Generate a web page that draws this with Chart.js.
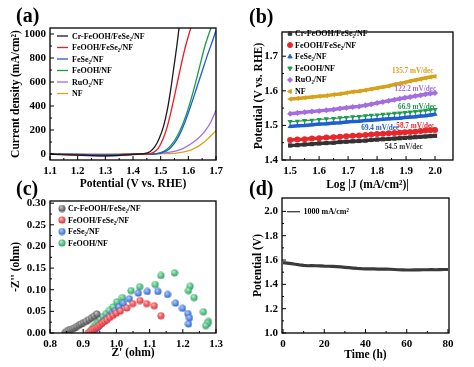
<!DOCTYPE html>
<html>
<head>
<meta charset="utf-8">
<script src="https://cdn.jsdelivr.net/npm/chart.js@4.4.0/dist/chart.umd.min.js"></script>
<style>
  html, body { margin: 0; padding: 0; background: #fff; }
  #fig { position: relative; width: 474px; height: 367px; overflow: hidden; }
  #fig canvas { position: absolute; }
  .tag { position: absolute; font: bold 20px "Liberation Serif", serif; color: #000; line-height: 1; }
</style>
</head>
<body>
<div id="fig">
  <canvas id="ca" width="237" height="195" style="left:0;top:0"></canvas>
  <canvas id="cb" width="237" height="195" style="left:237px;top:0"></canvas>
  <canvas id="cc" width="237" height="184" style="left:0;top:183px"></canvas>
  <canvas id="cd" width="237" height="184" style="left:237px;top:183px"></canvas>
  <div class="tag" style="left:16px;top:5px">(a)</div>
  <div class="tag" style="left:249px;top:6px">(b)</div>
  <div class="tag" style="left:16px;top:178px">(c)</div>
  <div class="tag" style="left:249px;top:178px">(d)</div>
</div>
<script>
// ---- (a) LSV curves: potential (V) / current density (mA/cm2)
var namesA = ["Cr-FeOOH/FeSe\u2082/NF", "FeOOH/FeSe\u2082/NF", "FeSe\u2082/NF", "FeOOH/NF", "RuO\u2082/NF", "NF"];
var vBlack = [1.10, 1.15, 1.20, 1.25, 1.30, 1.35, 1.40, 1.437, 1.461, 1.479, 1.495, 1.510, 1.524, 1.536, 1.548, 1.558, 1.567];
var jBlack = [-2, -5, -9, -13, -15, -12, -3, 2, 19, 61, 131, 228, 367, 533, 728, 894, 1060];
var vRed = [1.10, 1.15, 1.20, 1.25, 1.30, 1.35, 1.40, 1.449, 1.473, 1.491, 1.507, 1.522, 1.536, 1.552, 1.570, 1.588, 1.610];
var jRed = [-2, -6, -10, -14, -16, -13, -4, 0, 11, 47, 117, 214, 339, 506, 700, 881, 1060];
var vBlue = [1.10, 1.20, 1.30, 1.40, 1.48, 1.51, 1.53, 1.55, 1.57, 1.59, 1.61, 1.63, 1.65, 1.67, 1.69, 1.70];
var jBlue = [-1, -4, -7, -2, 0, 15, 40, 90, 170, 280, 410, 550, 690, 830, 960, 1030];
var vGreen = [1.10, 1.20, 1.30, 1.40, 1.47, 1.50, 1.52, 1.54, 1.56, 1.58, 1.60, 1.62, 1.64, 1.66, 1.683];
var jGreen = [-1, -4, -8, -2, 0, 12, 35, 80, 150, 250, 380, 540, 720, 900, 1060];
var vPurple = [1.10, 1.20, 1.30, 1.40, 1.45, 1.50, 1.55, 1.58, 1.61, 1.64, 1.66, 1.68, 1.70];
var jPurple = [-1, -3, -4, 0, 2, 6, 22, 45, 85, 140, 190, 260, 365];
var vOrange = [1.10, 1.20, 1.30, 1.40, 1.50, 1.55, 1.58, 1.61, 1.64, 1.67, 1.70];
var jOrange = [0, -1, -1, 0, 2, 6, 15, 35, 70, 125, 195];
var xTicksA = [1.1, 1.2, 1.3, 1.4, 1.5, 1.6, 1.7];
var yTicksA = [0, 200, 400, 600, 800, 1000];

// ---- (b) Tafel plots: log|J| / potential (V)
var logJ = [1.500, 1.525, 1.550, 1.575, 1.600, 1.625, 1.650, 1.672, 1.694, 1.716, 1.738, 1.760, 1.780,
            1.800, 1.820, 1.840, 1.860, 1.878, 1.896, 1.914, 1.932, 1.950, 1.967, 1.984, 2.000];
var tafBlack = [1.442, 1.443, 1.445, 1.446, 1.448, 1.449, 1.450, 1.452, 1.453, 1.454, 1.455, 1.456, 1.458,
                1.459, 1.460, 1.461, 1.462, 1.463, 1.464, 1.465, 1.466, 1.467, 1.468, 1.469, 1.470];
var tafRed = [1.458, 1.459, 1.460, 1.462, 1.463, 1.465, 1.466, 1.467, 1.469, 1.470, 1.471, 1.472, 1.474,
              1.475, 1.476, 1.477, 1.478, 1.479, 1.480, 1.481, 1.482, 1.484, 1.485, 1.486, 1.487];
var tafBlue = [1.497, 1.499, 1.500, 1.502, 1.504, 1.505, 1.507, 1.508, 1.510, 1.511, 1.512, 1.514, 1.515,
               1.516, 1.518, 1.519, 1.520, 1.521, 1.523, 1.524, 1.525, 1.527, 1.528, 1.530, 1.532];
var tafGreen = [1.511, 1.512, 1.514, 1.515, 1.517, 1.519, 1.520, 1.522, 1.523, 1.525, 1.526, 1.528, 1.529,
                1.530, 1.532, 1.533, 1.535, 1.536, 1.537, 1.539, 1.540, 1.542, 1.543, 1.545, 1.546];
var tafPurple = [1.534, 1.536, 1.538, 1.540, 1.542, 1.544, 1.546, 1.549, 1.551, 1.553, 1.555, 1.558, 1.561,
                 1.565, 1.568, 1.571, 1.574, 1.577, 1.580, 1.582, 1.585, 1.587, 1.590, 1.592, 1.594];
var tafOrange = [1.576, 1.578, 1.580, 1.582, 1.584, 1.586, 1.589, 1.591, 1.594, 1.597, 1.599, 1.602, 1.605,
                 1.608, 1.611, 1.614, 1.618, 1.621, 1.624, 1.628, 1.631, 1.634, 1.637, 1.640, 1.642];
var slopeTexts = ["54.5 mV/dec", "58.7 mV/dec", "69.4 mV/dec", "66.9 mV/dec", "122.2 mV/dec", "135.7 mV/dec"];
var xTicksB = [1.5, 1.6, 1.7, 1.8, 1.9, 2.0];
var yTicksB = [1.4, 1.5, 1.6, 1.7];

// ---- (c) Nyquist plots: Z' / -Z'' (ohm)
var namesC = ["Cr-FeOOH/FeSe\u2082/NF", "FeOOH/FeSe\u2082/NF", "FeSe\u2082/NF", "FeOOH/NF"];
var zrBlack = [0.845, 0.850, 0.856, 0.862, 0.868, 0.874, 0.880, 0.887, 0.894, 0.901, 0.909, 0.917, 0.925, 0.933, 0.941];
var ziBlack = [0.001, 0.004, 0.006, 0.008, 0.010, 0.012, 0.015, 0.018, 0.021, 0.024, 0.027, 0.031, 0.035, 0.039, 0.044];
var zrRed = [0.915, 0.920, 0.926, 0.932, 0.938, 0.944, 0.950, 0.957, 0.964, 0.972, 0.980, 0.990, 1.000, 1.012, 1.031, 1.049, 1.071, 1.091, 1.114, 1.134];
var ziRed = [0.000, 0.003, 0.006, 0.009, 0.012, 0.015, 0.019, 0.023, 0.027, 0.031, 0.036, 0.041, 0.046, 0.051, 0.058, 0.068, 0.075, 0.068, 0.063, 0.040];
var zrBlue = [0.925, 0.930, 0.936, 0.942, 0.948, 0.955, 0.962, 0.970, 0.978, 0.987, 0.997, 1.008, 1.021, 1.039, 1.066, 1.093, 1.125, 1.154, 1.178, 1.199, 1.215, 1.220, 1.217];
var ziBlue = [0.000, 0.004, 0.008, 0.012, 0.017, 0.022, 0.027, 0.033, 0.039, 0.045, 0.051, 0.060, 0.069, 0.079, 0.092, 0.096, 0.096, 0.089, 0.069, 0.057, 0.045, 0.035, 0.021];
var zrGreen = [0.918, 0.922, 0.927, 0.932, 0.938, 0.945, 0.952, 0.960, 0.969, 0.979, 0.990, 1.001, 1.018, 1.044, 1.070, 1.117, 1.134, 1.175, 1.222, 1.217, 1.234, 1.262, 1.277, 1.275, 1.269];
var ziGreen = [0.000, 0.005, 0.010, 0.015, 0.020, 0.026, 0.032, 0.038, 0.045, 0.052, 0.060, 0.072, 0.082, 0.098, 0.107, 0.112, 0.133, 0.139, 0.108, 0.098, 0.082, 0.049, 0.027, 0.022, 0.017];
var xTicksC = [0.8, 0.9, 1.0, 1.1, 1.2, 1.3];
var yTicksC = [0, 0.05, 0.10, 0.15, 0.20, 0.25, 0.30];

// ---- (d) stability at 1000 mA/cm2: time (h) / potential (V)
var timeH = [0, 2, 4, 6, 8, 10, 12, 14, 16, 18, 20, 22, 24, 26, 28, 30, 32, 34, 36, 38, 40,
             42, 44, 46, 48, 50, 52, 54, 56, 58, 60, 62, 64, 66, 68, 70, 72, 74, 76, 78, 80];
var potD = [1.578, 1.574, 1.570, 1.565, 1.560, 1.556, 1.553, 1.555, 1.553, 1.552, 1.550, 1.549, 1.548, 1.546,
            1.543, 1.540, 1.537, 1.534, 1.531, 1.529, 1.528, 1.527, 1.527, 1.526, 1.526, 1.525, 1.524, 1.522,
            1.520, 1.519, 1.518, 1.518, 1.519, 1.519, 1.520, 1.520, 1.521, 1.520, 1.521, 1.522, 1.522];
var xTicksD = [0, 20, 40, 60, 80];
var yTicksD = [1.0, 1.2, 1.4, 1.6, 1.8, 2.0];

Chart.defaults.font.family = '"Liberation Serif", "Times New Roman", serif';
Chart.defaults.font.weight = 'bold';
Chart.defaults.font.size = 11;
Chart.defaults.color = '#000';

function xy(xs, ys) {
    return xs.map(function(x, i) { return {x: x, y: ys[i]}; });
}

function axis(min, max, tickVals, digits, title, titlePad, fit, labelPad) {
    return {
        type: 'linear', min: min, max: max,
        grid: {display: false, drawTicks: false},
        border: {display: false},
        afterBuildTicks: function(s) {
            s.ticks = tickVals.map(function(v) { return {value: v}; });
        },
        afterFit: function(s) {
            if (s.isHorizontal()) s.height = fit; else s.width = fit;
        },
        ticks: {
            padding: labelPad, maxRotation: 0, autoSkip: false,
            font: {size: 11, weight: 'bold'},
            callback: function(v) { return Number(v).toFixed(digits); }
        },
        title: {display: true, text: title, padding: titlePad, font: {size: 11.5, weight: 'bold'}}
    };
}

// axis box with inward major/minor ticks
var framePlugin = {
    id: 'frame',
    afterDatasetsDraw: function(chart) {
        var ctx = chart.ctx, a = chart.chartArea;
        var xs = chart.scales.x, ys = chart.scales.y;
        ctx.save();
        ctx.strokeStyle = '#000';
        ctx.lineWidth = 1;
        ctx.beginPath();
        xs.ticks.forEach(function(t, i) {
            var p = xs.getPixelForValue(t.value);
            ctx.moveTo(p, a.bottom); ctx.lineTo(p, a.bottom - 4);
            if (i < xs.ticks.length - 1) {
                var m = xs.getPixelForValue((t.value + xs.ticks[i + 1].value) / 2);
                ctx.moveTo(m, a.bottom); ctx.lineTo(m, a.bottom - 2);
            }
        });
        ys.ticks.forEach(function(t, i) {
            var p = ys.getPixelForValue(t.value);
            ctx.moveTo(a.left, p); ctx.lineTo(a.left + 4, p);
            if (i < ys.ticks.length - 1) {
                var m = ys.getPixelForValue((t.value + ys.ticks[i + 1].value) / 2);
                ctx.moveTo(a.left, m); ctx.lineTo(a.left + 2, m);
            }
        });
        ctx.stroke();
        ctx.lineWidth = 1.3;
        ctx.strokeRect(a.left, a.top, a.right - a.left, a.bottom - a.top);
        ctx.restore();
    }
};

// legend drawn inside the plot area
var boxLegend = {
    id: 'boxLegend',
    afterDraw: function(chart, args, o) {
        if (!o || !o.x) return;
        var ctx = chart.ctx;
        ctx.save();
        ctx.font = 'bold ' + (o.size || 8) + 'px "Liberation Serif", serif';
        ctx.textBaseline = 'middle';
        ctx.textAlign = 'left';
        chart.data.datasets.forEach(function(ds, i) {
            var y = o.y + i * o.step;
            if (o.sample === 'line') {
                ctx.strokeStyle = ds.borderColor;
                ctx.lineWidth = 1.3;
                ctx.beginPath();
                ctx.moveTo(o.x, y); ctx.lineTo(o.x + o.len, y);
                ctx.stroke();
            } else if (o.sample === 'image') {
                var img = ds.pointStyle;
                ctx.drawImage(img, o.x - img.width / 2, y - img.height / 2);
            } else {
                ctx.fillStyle = ds.backgroundColor;
                ctx.strokeStyle = ds.backgroundColor;
                Chart.helpers.drawPoint(ctx, {pointStyle: ds.pointStyle, rotation: ds.pointRotation || 0,
                    radius: 2.5, borderWidth: 0.5}, o.x, y);
            }
            ctx.fillStyle = '#000';
            ctx.fillText(ds.label, o.textX, y + 0.5);
        });
        ctx.restore();
    }
};

// slope annotations for (b), placed in data units
var slopeNotes = {
    id: 'slopeNotes',
    afterDraw: function(chart, args, o) {
        if (!o || !o.items) return;
        var ctx = chart.ctx;
        ctx.save();
        ctx.font = 'bold 7.2px "Liberation Serif", serif';
        ctx.textAlign = 'center';
        ctx.textBaseline = 'middle';
        o.items.forEach(function(it) {
            ctx.fillStyle = it.color;
            ctx.fillText(it.text, chart.scales.x.getPixelForValue(it.x), chart.scales.y.getPixelForValue(it.y));
        });
        ctx.restore();
    }
};

function sphere(color, light) {
    var c = document.createElement('canvas');
    c.width = 8; c.height = 8;
    var g = c.getContext('2d');
    var grad = g.createRadialGradient(3, 2.6, 0.3, 4, 4, 4);
    grad.addColorStop(0, light);
    grad.addColorStop(1, color);
    g.fillStyle = grad;
    g.beginPath();
    g.arc(4, 4, 3.5, 0, Math.PI * 2);
    g.fill();
    return c;
}

function baseOptions(pad) {
    return {
        responsive: false, animation: false, devicePixelRatio: 1,
        layout: {padding: pad},
        plugins: {legend: {display: false}, tooltip: {enabled: false}}
    };
}

// ---- chart (a)
var colsA = ['#1a1a1a', '#ec1c24', '#1e5bd6', '#1a9850', '#a36fe0', '#d9a520'];
var seriesA = [[vBlack, jBlack], [vRed, jRed], [vBlue, jBlue], [vGreen, jGreen], [vPurple, jPurple], [vOrange, jOrange]];
var optA = baseOptions({left: 0, right: 21, top: 28, bottom: 0});
optA.scales = {
    x: axis(1.1, 1.7, xTicksA, 1, 'Potential (V vs. RHE)', {bottom: 4}, 35, 5),
    y: axis(-50, 1050, yTicksA, 0, 'Current density (mA/cm\u00b2)', {top: 9}, 50, 4)
};
optA.plugins.boxLegend = {x: 57, len: 11, textX: 72, y: 36, step: 11.5, sample: 'line'};
new Chart(document.getElementById('ca'), {
    type: 'line',
    data: {
        datasets: seriesA.map(function(s, i) {
            return {label: namesA[i], data: xy(s[0], s[1]), borderColor: colsA[i], borderWidth: 1.3,
                pointRadius: 0, cubicInterpolationMode: 'monotone', fill: false};
        })
    },
    options: optA,
    plugins: [framePlugin, boxLegend]
});

// ---- chart (b)
var colsB = ['#333333', '#e8262b', '#1f5fcf', '#1d9b4e', '#a46de0', '#d6a11c'];
var markB = ['rect', 'circle', 'triangle', 'triangle', 'rectRot', 'triangle'];
var rotB = [0, 0, 0, 180, 0, 270];
var lineB = [3.5, 3.5, 3.5, 1.2, 3.5, 3.5];
var seriesB = [tafBlack, tafRed, tafBlue, tafGreen, tafPurple, tafOrange];
var optB = baseOptions({left: 0, right: 21, top: 32, bottom: 0});
optB.scales = {
    x: axis(1.472, 2.062, xTicksB, 1, 'Log |J (mA/cm\u00b2)|', {bottom: 3}, 35, 5),
    y: axis(1.4, 1.77, yTicksB, 1, 'Potential (V vs. RHE)', {top: 15}, 45, 4)
};
optB.plugins.boxLegend = {x: 53, textX: 58, y: 33.5, step: 11.6, sample: 'point'};
optB.plugins.slopeNotes = {items: [
    {text: slopeTexts[0], x: 1.892, y: 1.437, color: '#333333'},
    {text: slopeTexts[1], x: 1.932, y: 1.499, color: '#e8262b'},
    {text: slopeTexts[2], x: 1.811, y: 1.492, color: '#1f5fcf'},
    {text: slopeTexts[3], x: 1.938, y: 1.554, color: '#1d9b4e'},
    {text: slopeTexts[4], x: 1.932, y: 1.606, color: '#a46de0'},
    {text: slopeTexts[5], x: 1.923, y: 1.658, color: '#d6a11c'}
]};
new Chart(document.getElementById('cb'), {
    type: 'line',
    data: {
        datasets: seriesB.map(function(ys, i) {
            return {label: namesA[i], data: xy(logJ, ys), borderColor: colsB[i], backgroundColor: colsB[i],
                borderWidth: lineB[i], pointRadius: 3, pointBorderWidth: 0, pointStyle: markB[i],
                pointRotation: rotB[i], showLine: true, fill: false};
        })
    },
    options: optB,
    plugins: [framePlugin, boxLegend, slopeNotes]
});

// ---- chart (c)
var spheresC = [sphere('#3c3c3c', '#c8c8c8'), sphere('#d81c24', '#ffb4b4'),
                sphere('#1c58d0', '#b0ccff'), sphere('#1c9a52', '#b0f0cc')];
var seriesC = [[zrBlack, ziBlack], [zrRed, ziRed], [zrBlue, ziBlue], [zrGreen, ziGreen]];
var optC = baseOptions({left: 0, right: 21, top: 18, bottom: 0});
optC.scales = {
    x: axis(0.8, 1.3, xTicksC, 1, "Z' (ohm)", {bottom: 7}, 34, 5),
    y: axis(0, 0.305, yTicksC, 2, "-Z'' (ohm)", {top: 9}, 50, 4)
};
optC.plugins.boxLegend = {x: 62, textX: 68, y: 25.5, step: 11.5, sample: 'image'};
new Chart(document.getElementById('cc'), {
    type: 'scatter',
    data: {
        datasets: seriesC.map(function(s, i) {
            return {label: namesC[i], data: xy(s[0], s[1]), pointStyle: spheresC[i], pointRadius: 4};
        })
    },
    options: optC,
    plugins: [framePlugin, boxLegend]
});

// ---- chart (d)
var optD = baseOptions({left: 0, right: 25, top: 15, bottom: 0});
optD.scales = {
    x: axis(-0.5, 80.5, xTicksD, 0, 'Time (h)', {bottom: 5}, 34, 5),
    y: axis(1.0, 2.11, yTicksD, 1, 'Potential (V)', {top: 14}, 45, 4)
};
optD.plugins.boxLegend = {x: 50, len: 13, textX: 66.5, y: 28.7, step: 11, sample: 'line', size: 8};
new Chart(document.getElementById('cd'), {
    type: 'line',
    data: {
        datasets: [{label: '1000 mA/cm\u00b2', data: xy(timeH, potD), borderColor: '#3a3a3a',
            borderWidth: 3.2, pointRadius: 0, fill: false}]
    },
    options: optD,
    plugins: [framePlugin, boxLegend]
});
</script>
</body>
</html>
